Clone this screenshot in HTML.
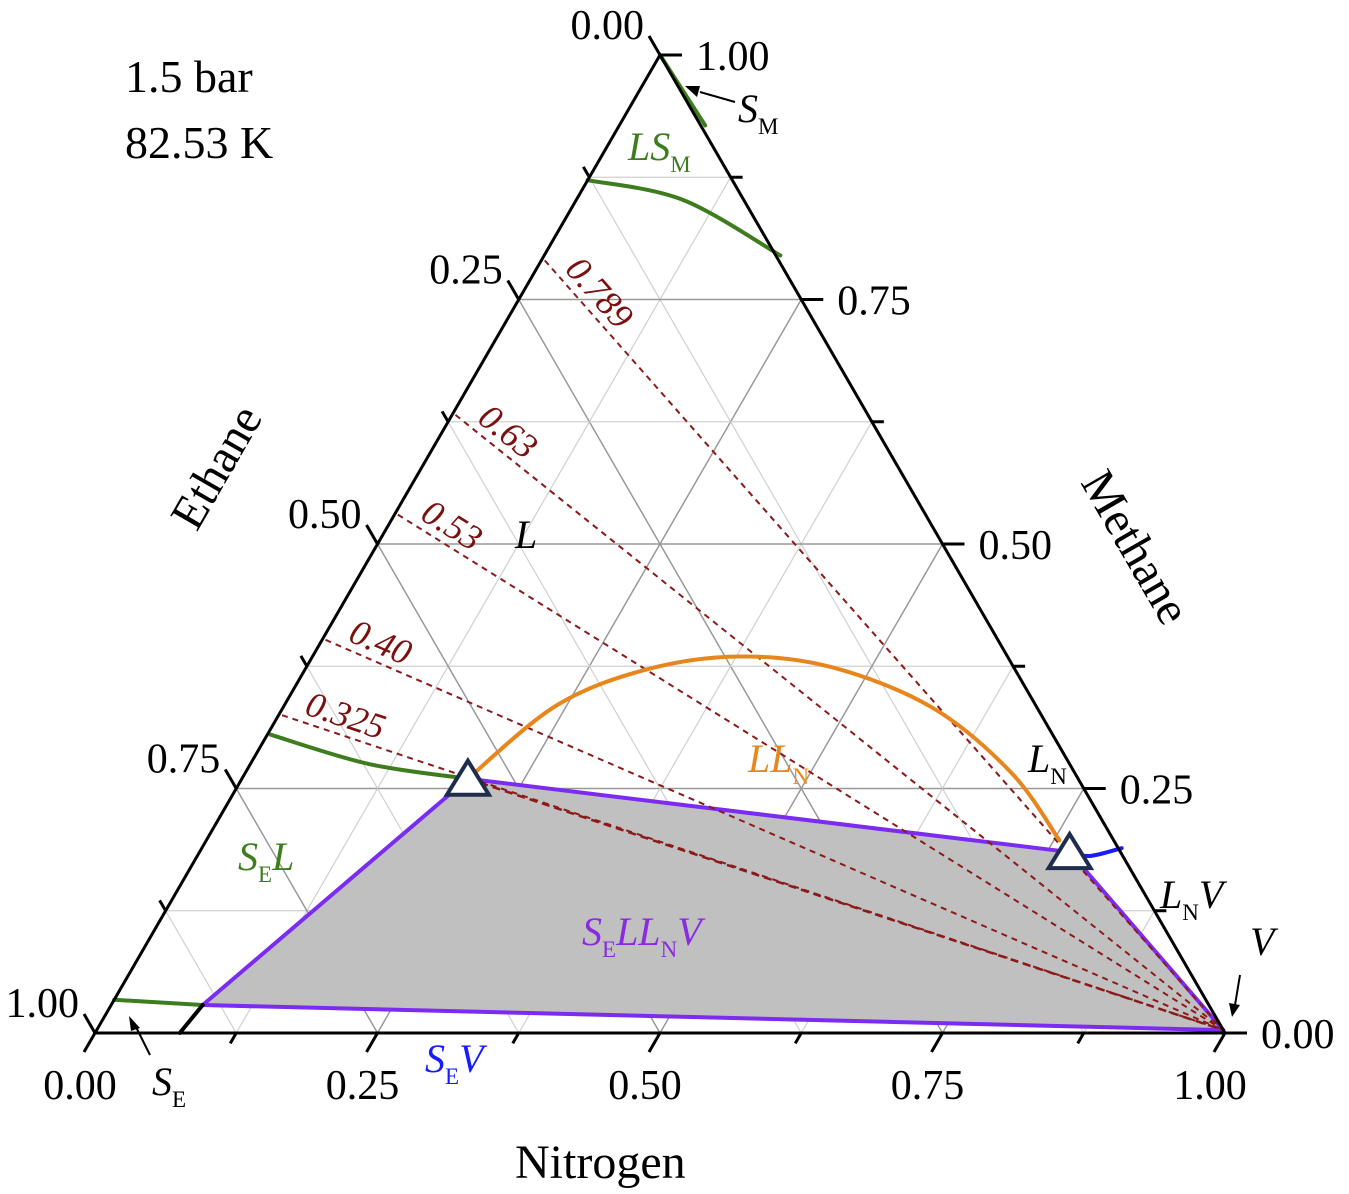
<!DOCTYPE html>
<html><head><meta charset="utf-8"><style>
body{margin:0;background:#fff}
svg{display:block}
text{font-family:"Liberation Serif",serif}
</style></head><body>
<svg id="c" width="1349" height="1194" viewBox="0 0 1349 1194" xmlns="http://www.w3.org/2000/svg">
<g id="grid"></g>
<g id="marks"></g>
<g id="axes"></g>
<g id="labels">
<text x="125" y="92" font-size="46">1.5 bar</text>
<text x="125" y="158" font-size="46">82.53 K</text>
<text x="515" y="1178" font-size="48">Nitrogen</text>
<text transform="translate(230,475) rotate(-60)" text-anchor="middle" font-size="48">Ethane</text>
<text transform="translate(1122,555) rotate(60)" text-anchor="middle" font-size="48">Methane</text>
<text x="738" y="122" font-size="40" font-style="italic">S<tspan font-size="23" font-style="normal" dy="12">M</tspan></text>
<text x="628" y="160" font-size="40" font-style="italic" fill="#3e7d1e">LS<tspan font-size="23" font-style="normal" dy="12">M</tspan></text>
<text x="515" y="548" font-size="40" font-style="italic">L</text>
<text x="748" y="772" font-size="40" font-style="italic" fill="#e8861e">LL<tspan font-size="23" font-style="normal" dy="12">N</tspan></text>
<text x="1028" y="772" font-size="40" font-style="italic">L<tspan font-size="23" font-style="normal" dy="12">N</tspan></text>
<text x="1160" y="908" font-size="40" font-style="italic">L<tspan font-size="23" font-style="normal" dy="12">N</tspan><tspan dy="-12">V</tspan></text>
<text x="1250" y="955" font-size="40" font-style="italic">V</text>
<text x="238" y="870" font-size="40" font-style="italic" fill="#3e7d1e">S<tspan font-size="23" font-style="normal" dy="12">E</tspan><tspan dy="-12">L</tspan></text>
<text x="582" y="945" font-size="40" font-style="italic" fill="#8a2be2">S<tspan font-size="23" font-style="normal" dy="12">E</tspan><tspan dy="-12">LL</tspan><tspan font-size="23" font-style="normal" dy="12">N</tspan><tspan dy="-12">V</tspan></text>
<text x="425" y="1072" font-size="40" font-style="italic" fill="#1a1aff">S<tspan font-size="23" font-style="normal" dy="12">E</tspan><tspan dy="-12">V</tspan></text>
<text x="152" y="1095" font-size="40" font-style="italic">S<tspan font-size="23" font-style="normal" dy="12">E</tspan></text>
<line x1="700" y1="92" x2="735" y2="102" stroke="#000" stroke-width="2"/>
<polygon points="685,86 700,86 697,97" fill="#000"/>
<line x1="150" y1="1055" x2="135" y2="1025" stroke="#000" stroke-width="2"/>
<polygon points="129,1016 140,1028 131,1031" fill="#000"/>
<line x1="1240" y1="975" x2="1235" y2="1005" stroke="#000" stroke-width="2"/>
<polygon points="1232,1017 1229,1003 1240,1005" fill="#000"/>
</g>
</svg>
<script>
const NS="http://www.w3.org/2000/svg";
// data (N = nitrogen fraction, M = methane fraction)
const tickLabels=["0.00","0.25","0.50","0.75","1.00"];
const tickValues=[0,0.25,0.5,0.75,1];
const regionN=[0.081,0.20,0.770,0.997];
const regionM=[0.0286,0.26,0.185,0.003];
const llnN=[0.20,0.241,0.303,0.378,0.465,0.574,0.678,0.755];
const llnM=[0.26,0.335,0.372,0.385,0.374,0.333,0.266,0.197];
const lnvN=[0.770,0.790,0.814];
const lnvM=[0.185,0.181,0.189];
const lsm1N=[0,0.076];const lsm1M=[1,0.928];
const lsm2N=[0,0.094,0.209];const lsm2M=[0.872,0.852,0.795];
const selN=[0.003,0.105,0.20];const selM=[0.305,0.275,0.26];
const se2N=[0,0.081];const se2M=[0.034,0.0286];
const sevN=[0.075,0.081];const sevM=[0,0.0286];
const tieLabels=["0.789","0.63","0.53","0.40","0.325"];
const tieM=[0.790,0.632,0.53,0.402,0.325];
const vN=0.997,vM=0.003;
const W=1130,H=978,X0=95,Y0=1033;
function px(n,m){return [X0+n*W+m*W/2, Y0-m*H];}
function el(t,a,p,txt){const e=document.createElementNS(NS,t);for(const k in a)e.setAttribute(k,a[k]);if(txt!==undefined)e.textContent=txt;p.appendChild(e);return e;}
const grid=document.getElementById('grid'),marks=document.getElementById('marks'),axes=document.getElementById('axes');
for(let i=1;i<8;i++){const f=i/8;const maj=i%2==0;const st={stroke:maj?'#999':'#d0d0d0','stroke-width':maj?1.5:1.2};
 let a=px(0,f),b=px(1-f,f);let l=el('line',Object.assign({x1:a[0],y1:a[1],x2:b[0],y2:b[1]},st),grid);
 a=px(f,0);b=px(f,1-f);l=el('line',Object.assign({x1:a[0],y1:a[1],x2:b[0],y2:b[1]},st),grid);
 a=px(1-f,0);b=px(0,1-f);l=el('line',Object.assign({x1:a[0],y1:a[1],x2:b[0],y2:b[1]},st),grid);}
function path(N,M){return N.map((n,i)=>{const p=px(n,M[i]);return (i?'L':'M')+p[0]+','+p[1];}).join('');}
function smooth(N,M){const P=N.map((n,i)=>px(n,M[i]));let d='M'+P[0];
 for(let i=0;i<P.length-1;i++){const p0=P[Math.max(0,i-1)],p1=P[i],p2=P[i+1],p3=P[Math.min(P.length-1,i+2)];
  const c1=[p1[0]+(p2[0]-p0[0])/6,p1[1]+(p2[1]-p0[1])/6],c2=[p2[0]-(p3[0]-p1[0])/6,p2[1]-(p3[1]-p1[1])/6];
  d+='C'+c1+' '+c2+' '+p2;}return d;}
let r=el('path',{d:path(regionN,regionM)+'Z',fill:'#c0c0c0',stroke:'#7b2cf0','stroke-width':4,'stroke-linejoin':'round'},marks);

const v=px(vN,vM);
tieM.forEach((m,i)=>{const a=px(0.003,m);const l=el('line',{x1:a[0],y1:a[1],x2:v[0],y2:v[1],stroke:'#8b1a1a','stroke-width':2,'stroke-dasharray':'6,5'},marks);
 
 const ang=Math.atan2(v[1]-a[1],v[0]-a[0]);const deg=ang*180/Math.PI;
 const ox=a[0]+20*Math.cos(ang)+8*Math.sin(ang), oy=a[1]+20*Math.sin(ang)-8*Math.cos(ang);
 const t=el('text',{transform:`translate(${ox},${oy}) rotate(${deg})`,'font-size':36,'font-style':'italic',fill:'#7a1010'},marks,tieLabels[i]);
 });
const tp=px(regionN[1],regionM[1]);
let tl=el('line',{x1:tp[0],y1:tp[1],x2:v[0],y2:v[1],stroke:'#8b1a1a','stroke-width':2.5,'stroke-dasharray':'8,5'},marks);

function curve(N,M,c,w,name){const p=el('path',{d:smooth(N,M),fill:'none',stroke:c,'stroke-width':w,'stroke-linecap':'round'},marks);}
curve(llnN,llnM,'#e8861e',4,'lln-curve');
curve(lnvN,lnvM,'#1a1aff',4,'lnv-curve');
curve(lsm1N,lsm1M,'#3e7d1e',4,'sm-curve');
curve(lsm2N,lsm2M,'#3e7d1e',4,'lsm-curve');
curve(selN,selM,'#3e7d1e',4,'sel-curve');
curve(se2N,se2M,'#3e7d1e',4,'se-curve');
curve(sevN,sevM,'#000',4,'sev-curve');
[[regionN[1],regionM[1]],[regionN[2],regionM[2]]].forEach(q=>{const p=px(q[0],q[1]);
 const t=el('polygon',{points:`${p[0]},${p[1]-18} ${p[0]-21},${p[1]+16} ${p[0]+21},${p[1]+16}`,fill:'#fff',stroke:'#1f2d4d','stroke-width':4},marks);
 });
const A=px(0,0),B=px(1,0),C=px(0,1);
let tri=el('polygon',{points:`${A} ${B} ${C}`,fill:'none',stroke:'#000','stroke-width':3},axes);

for(let i=0;i<=8;i++){const f=i/8,len=i%2?12:22;
 let p=px(f,0);let l=el('line',{x1:p[0],y1:p[1],x2:p[0]-len*0.5,y2:p[1]+len*0.866,stroke:'#000','stroke-width':3},axes);
 p=px(1-f,f);l=el('line',{x1:p[0],y1:p[1],x2:p[0]+len,y2:p[1],stroke:'#000','stroke-width':3},axes);
 p=px(0,1-f);l=el('line',{x1:p[0],y1:p[1],x2:p[0]-len*0.5,y2:p[1]-len*0.866,stroke:'#000','stroke-width':3},axes);}
tickValues.forEach((f,i)=>{let p=px(f,0);
 let t=el('text',{x:p[0]-15,y:p[1]+66,'font-size':42,'text-anchor':'middle'},axes,tickLabels[i]);
 p=px(1-f,f);t=el('text',{x:p[0]+36,y:p[1]+15,'font-size':42},axes,tickLabels[i]);
 p=px(0,1-f);t=el('text',{x:p[0]-16,y:p[1]-16,'font-size':42,'text-anchor':'end'},axes,tickLabels[i]);});
</script>
</body></html>
